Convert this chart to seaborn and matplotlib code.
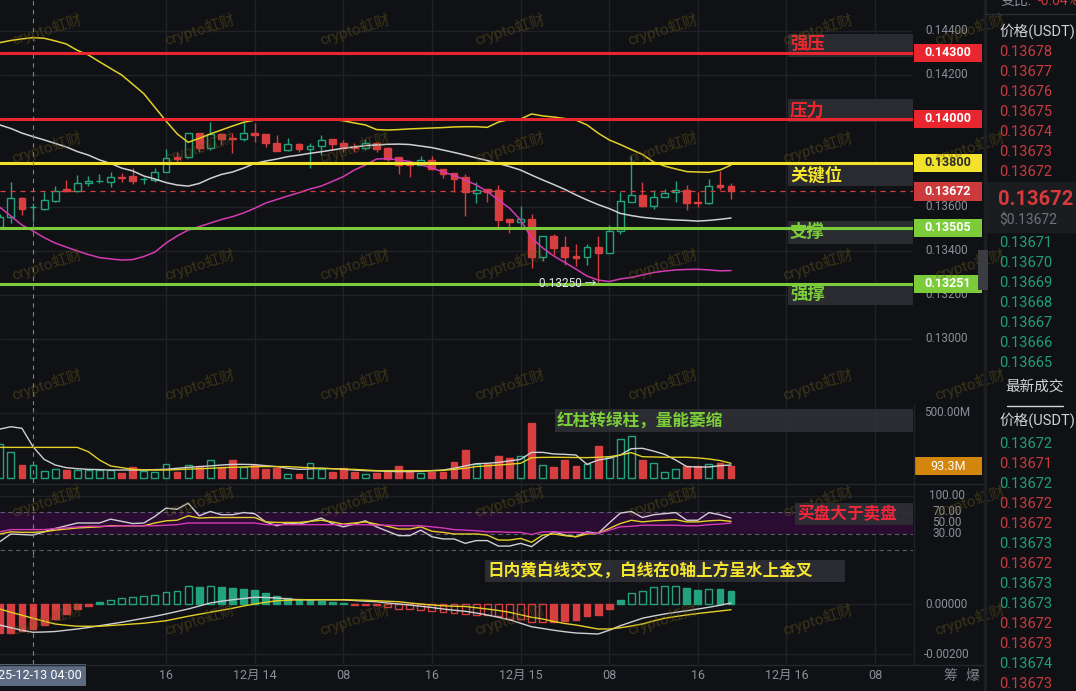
import matplotlib
matplotlib.use('Agg')
import matplotlib.pyplot as plt
import matplotlib.transforms as mtransforms
from matplotlib.patches import Rectangle
import numpy as np
import pandas as pd
import seaborn as sns

# ---------------- data (1h candles, hour index from 2025-12-13 00:00) ----------------
hours = list(range(1, 68))
open_ = [0.13509, 0.13553, 0.13640, 0.13598, 0.13591, 0.13629, 0.13680, 0.13674, 0.13708, 0.13716,
         0.13715, 0.13734, 0.13741, 0.13725, 0.13723, 0.13760, 0.13829, 0.13826, 0.13935, 0.13867,
         0.13930, 0.13915, 0.13908, 0.13935, 0.13930, 0.13890, 0.13859, 0.13885, 0.13864, 0.13879,
         0.13908, 0.13890, 0.13874, 0.13867, 0.13890, 0.13867, 0.13829, 0.13799, 0.13791, 0.13814,
         0.13773, 0.13753, 0.13738, 0.13665, 0.13680, 0.13677, 0.13545, 0.13533, 0.13545, 0.13371,
         0.13470, 0.13417, 0.13377, 0.13371, 0.13417, 0.13392, 0.13491, 0.13624, 0.13655, 0.13606,
         0.13647, 0.13667, 0.13677, 0.13624, 0.13617, 0.13700, 0.13695]
high = [0.13570, 0.13715, 0.13647, 0.13620, 0.13670, 0.13697, 0.13723, 0.13745, 0.13741, 0.13750,
        0.13758, 0.13756, 0.13779, 0.13738, 0.13776, 0.13864, 0.13851, 0.13938, 0.13938, 0.13985,
        0.13938, 0.13938, 0.13985, 0.13980, 0.13930, 0.13927, 0.13912, 0.13892, 0.13892, 0.13927,
        0.13908, 0.13905, 0.13892, 0.13908, 0.13897, 0.13874, 0.13829, 0.13801, 0.13833, 0.13833,
        0.13773, 0.13753, 0.13749, 0.13712, 0.13682, 0.13700, 0.13545, 0.13605, 0.13568, 0.13470,
        0.13476, 0.13470, 0.13430, 0.13430, 0.13470, 0.13518, 0.13670, 0.13832, 0.13712, 0.13677,
        0.13682, 0.13718, 0.13700, 0.13670, 0.13726, 0.13764, 0.13710]
low = [0.13500, 0.13529, 0.13564, 0.13533, 0.13586, 0.13621, 0.13670, 0.13670, 0.13695, 0.13708,
       0.13692, 0.13715, 0.13703, 0.13703, 0.13715, 0.13758, 0.13806, 0.13824, 0.13851, 0.13859,
       0.13882, 0.13844, 0.13900, 0.13897, 0.13874, 0.13856, 0.13856, 0.13851, 0.13776, 0.13836,
       0.13859, 0.13851, 0.13851, 0.13859, 0.13851, 0.13811, 0.13750, 0.13738, 0.13791, 0.13768,
       0.13733, 0.13670, 0.13559, 0.13617, 0.13624, 0.13499, 0.13483, 0.13508, 0.13321, 0.13356,
       0.13382, 0.13336, 0.13332, 0.13336, 0.13250, 0.13392, 0.13476, 0.13624, 0.13601, 0.13590,
       0.13645, 0.13624, 0.13586, 0.13601, 0.13614, 0.13677, 0.13636]
close = [0.13555, 0.13640, 0.13591, 0.13600, 0.13632, 0.13674, 0.13673, 0.13708, 0.13718, 0.13718,
         0.13738, 0.13732, 0.13718, 0.13727, 0.13760, 0.13824, 0.13820, 0.13935, 0.13867, 0.13930,
         0.13908, 0.13908, 0.13935, 0.13927, 0.13890, 0.13856, 0.13885, 0.13862, 0.13877, 0.13905,
         0.13886, 0.13870, 0.13867, 0.13890, 0.13864, 0.13818, 0.13791, 0.13792, 0.13814, 0.13771,
         0.13749, 0.13727, 0.13667, 0.13677, 0.13670, 0.13541, 0.13533, 0.13545, 0.13371, 0.13470,
         0.13412, 0.13374, 0.13370, 0.13417, 0.13392, 0.13492, 0.13627, 0.13655, 0.13606, 0.13647,
         0.13662, 0.13677, 0.13620, 0.13617, 0.13695, 0.13692, 0.13672]
boll_up = [0.14347, 0.14357, 0.14364, 0.14370, 0.14367, 0.14355, 0.14341, 0.14312, 0.14291, 0.14260,
           0.14230, 0.14200, 0.14158, 0.14115, 0.14053, 0.13991, 0.13933, 0.13894, 0.13912, 0.13932,
           0.13950, 0.13968, 0.13985, 0.13995, 0.13998, 0.14000, 0.14000, 0.14000, 0.14000, 0.14000,
           0.13998, 0.13992, 0.13982, 0.13973, 0.13952, 0.13950, 0.13952, 0.13955, 0.13957, 0.13959,
           0.13961, 0.13964, 0.13965, 0.13965, 0.13962, 0.13986, 0.13998, 0.14000, 0.14023, 0.14014,
           0.14009, 0.14002, 0.13995, 0.13973, 0.13936, 0.13905, 0.13884, 0.13861, 0.13839, 0.13805,
           0.13786, 0.13773, 0.13761, 0.13759, 0.13758, 0.13768, 0.13791]
boll_mid = [0.13973, 0.13957, 0.13936, 0.13920, 0.13905, 0.13889, 0.13873, 0.13852, 0.13836, 0.13814,
            0.13798, 0.13777, 0.13764, 0.13741, 0.13727, 0.13711, 0.13700, 0.13695, 0.13707, 0.13730,
            0.13748, 0.13759, 0.13777, 0.13798, 0.13809, 0.13818, 0.13829, 0.13836, 0.13844, 0.13851,
            0.13859, 0.13867, 0.13873, 0.13879, 0.13882, 0.13885, 0.13886, 0.13884, 0.13877, 0.13870,
            0.13859, 0.13848, 0.13836, 0.13823, 0.13811, 0.13797, 0.13784, 0.13768, 0.13745, 0.13723,
            0.13702, 0.13680, 0.13655, 0.13632, 0.13611, 0.13593, 0.13571, 0.13561, 0.13553, 0.13548,
            0.13544, 0.13541, 0.13539, 0.13536, 0.13539, 0.13544, 0.13550]
boll_dn = [0.13599, 0.13559, 0.13518, 0.13491, 0.13461, 0.13436, 0.13418, 0.13400, 0.13384, 0.13370,
           0.13364, 0.13359, 0.13361, 0.13375, 0.13395, 0.13436, 0.13468, 0.13495, 0.13511, 0.13527,
           0.13543, 0.13556, 0.13573, 0.13594, 0.13618, 0.13634, 0.13650, 0.13665, 0.13682, 0.13695,
           0.13716, 0.13738, 0.13768, 0.13791, 0.13818, 0.13820, 0.13814, 0.13807, 0.13793, 0.13777,
           0.13760, 0.13743, 0.13723, 0.13700, 0.13670, 0.13632, 0.13595, 0.13541, 0.13459, 0.13414,
           0.13377, 0.13348, 0.13318, 0.13286, 0.13268, 0.13261, 0.13273, 0.13280, 0.13291, 0.13302,
           0.13309, 0.13314, 0.13316, 0.13317, 0.13314, 0.13310, 0.13311]
volume_m = [259, 198, 101, 99, 53, 71, 63, 63, 61, 61, 61, 40, 86, 53, 46, 106, 48, 99, 94, 137,
            84, 137, 84, 101, 71, 76, 35, 30, 119, 68, 48, 76, 48, 35, 43, 51, 94, 51, 43, 51,
            51, 122, 215, 112, 106, 170, 155, 167, 418, 99, 86, 139, 94, 106, 246, 160, 296, 319, 139, 114,
            45, 68, 94, 94, 107, 118, 93.3]
vol_ma_fast = [374, 392, 380, 240, 144, 101, 81, 73, 68, 66, 63, 63, 63, 63, 66, 68, 76, 83, 89, 94,
               101, 106, 106, 104, 96, 89, 76, 68, 71, 76, 73, 68, 63, 58, 56, 53, 51, 51, 53, 58,
               63, 76, 94, 111, 114, 121, 132, 144, 197, 197, 185, 182, 177, 106, 139, 152, 177, 225, 228, 207,
               182, 139, 89, 86, 86, 96, 101]
vol_ma_slow = [235, 235, 235, 235, 235, 235, 235, 235, 202, 139, 94, 81, 68, 65, 63, 63, 66, 70, 72, 76,
               80, 84, 86, 89, 89, 89, 89, 84, 80, 76, 73, 70, 68, 63, 58, 58, 58, 58, 58, 58,
               60, 68, 76, 89, 95, 101, 107, 114, 157, 159, 160, 159, 158, 157, 160, 164, 177, 195, 164, 162,
               160, 160, 160, 155, 147, 135, 114]
rsi6 = [16, 30, 29, 28, 34, 40, 45, 50, 50, 50, 57, 53, 49, 50, 62, 77, 75, 86, 63, 71,
        65, 65, 69, 67, 52, 45, 50, 48, 53, 59, 49, 43, 48, 54, 43, 35, 27, 27, 37, 25,
        21, 21, 13, 18, 18, 8, 8, 13, 7, 22, 34, 28, 25, 34, 31, 50, 68, 71, 60, 65,
        67, 69, 55, 55, 69, 65, 59]
rsi12 = [30, 34, 33, 33, 34, 37, 39, 41, 42, 43, 45, 45, 45, 45, 50, 54, 55, 63, 59, 60,
         60, 60, 60, 60, 52, 51, 51, 51, 53, 55, 52, 48, 50, 52, 48, 44, 39, 39, 43, 35,
         33, 30, 30, 30, 28, 19, 19, 22, 15, 28, 30, 27, 25, 30, 31, 40, 49, 55, 52, 54,
         55, 56, 52, 52, 54, 55, 53]
rsi24 = [34, 38, 38, 38, 38, 40, 41, 43, 44, 44, 44, 45, 45, 45, 45, 46, 47, 50, 50, 50,
         50, 50, 50, 50, 47, 47, 47, 47, 47, 47, 47, 47, 47, 47, 46, 46, 45, 45, 45, 43,
         41, 38, 37, 36, 34, 34, 33, 33, 29, 34, 34, 33, 33, 32, 31, 37, 43, 44, 46, 46,
         46, 46, 45, 45, 47, 48, 50]
macd_hist = [-0.00115, -0.00115, -0.00108, -0.00101, -0.00085, -0.00061, -0.00041, -0.00021, -0.00009, 0.00008,
             0.00015, 0.00024, 0.00028, 0.00032, 0.00035, 0.00048, 0.00052, 0.00071, 0.00070, 0.00072,
             0.00068, 0.00064, 0.00061, 0.00057, 0.00044, 0.00032, 0.00024, 0.00019, 0.00015, 0.00011,
             0.00008, 0.00005, -0.00005, -0.00005, -0.00005, -0.00013, -0.00019, -0.00021, -0.00023, -0.00029,
             -0.00032, -0.00036, -0.00041, -0.00043, -0.00045, -0.00048, -0.00059, -0.00061, -0.00072, -0.00073,
             -0.00073, -0.00069, -0.00063, -0.00049, -0.00043, -0.00020, 0.00016, 0.00043, 0.00051, 0.00067,
             0.00071, 0.00072, 0.00063, 0.00057, 0.00060, 0.00060, 0.00051]
dif = [-0.00084, -0.00095, -0.00105, -0.00113, -0.00112, -0.00110, -0.00105, -0.00100, -0.00094, -0.00087,
       -0.00080, -0.00073, -0.00065, -0.00057, -0.00049, -0.00040, -0.00030, -0.00020, -0.00008, 0.00004,
       0.00011, 0.00017, 0.00022, 0.00027, 0.00026, 0.00024, 0.00020, 0.00017, 0.00017, 0.00017,
       0.00017, 0.00017, 0.00014, 0.00011, 0.00009, 0.00004, 0.00000, -0.00004, -0.00009, -0.00014,
       -0.00020, -0.00025, -0.00029, -0.00036, -0.00044, -0.00053, -0.00063, -0.00077, -0.00091, -0.00098,
       -0.00105, -0.00111, -0.00116, -0.00118, -0.00120, -0.00105, -0.00087, -0.00072, -0.00057, -0.00048,
       -0.00040, -0.00033, -0.00027, -0.00020, -0.00013, -0.00005, 0.00004]
dea = [-0.00020, -0.00033, -0.00045, -0.00057, -0.00069, -0.00080, -0.00085, -0.00089, -0.00089, -0.00089,
       -0.00086, -0.00083, -0.00080, -0.00077, -0.00072, -0.00067, -0.00058, -0.00049, -0.00041, -0.00033,
       -0.00025, -0.00017, -0.00008, 0.00000, 0.00007, 0.00013, 0.00015, 0.00017, 0.00017, 0.00017,
       0.00017, 0.00017, 0.00016, 0.00015, 0.00013, 0.00011, 0.00009, 0.00004, 0.00000, -0.00004,
       -0.00007, -0.00009, -0.00010, -0.00015, -0.00020, -0.00026, -0.00033, -0.00043, -0.00053, -0.00060,
       -0.00070, -0.00078, -0.00084, -0.00092, -0.00100, -0.00100, -0.00095, -0.00088, -0.00080, -0.00068,
       -0.00057, -0.00050, -0.00044, -0.00038, -0.00033, -0.00028, -0.00023]

levels = [0.14300, 0.14000, 0.13800, 0.13505, 0.13251]
level_names = ['强压', '压力', '关键位', '支撑', '强撑']
level_kinds = ['red', 'red', 'yellow', 'green', 'green']
last_price = 0.13672
low_mark = 0.13250
low_mark_hour = 55
last_volume = 93.3

price_ticks = [0.130, 0.132, 0.134, 0.136, 0.138, 0.140, 0.142, 0.144]
price_tick_hidden = [0.138, 0.140]   # covered by level tags in the reference
vol_ticks = [500]
rsi_ticks = [100, 70, 50, 30]
macd_ticks = [0.0, -0.002]
time_ticks = [16, 24, 32, 40, 48, 56, 64, 72, 80]
time_labels = ['16', '12月 14', '08', '16', '12月 15', '08', '16', '12月 16', '08']
crosshair_hour = 4
crosshair_label = '2025-12-13 04:00'

ask_prices = ['0.13678', '0.13677', '0.13676', '0.13675', '0.13674', '0.13673', '0.13672']
bid_prices = ['0.13671', '0.13670', '0.13669', '0.13668', '0.13667', '0.13666', '0.13665']
trade_prices = ['0.13672', '0.13671', '0.13672', '0.13672', '0.13672', '0.13673', '0.13672',
                '0.13673', '0.13673', '0.13672', '0.13673', '0.13674', '0.13673']
trade_buy = [True, False, True, False, False, True, False, True, True, False, False, True, False]

msg_volume = '红柱转绿柱，量能萎缩'
msg_rsi = '买盘大于卖盘'
msg_macd = '日内黄白线交叉，白线在0轴上方呈水上金叉'

# ---------------- style ----------------
sns.set_theme(style='dark')
plt.rcParams['font.family'] = ['Roboto', 'Noto Sans CJK SC', 'DejaVu Sans']
plt.rcParams['axes.unicode_minus'] = False

BG = '#101114'
GRID = '#1f2227'
GREEN = '#22a37e'
RED = '#d63e3f'
AXTXT = '#8a8f98'
YEL = '#e3d026'
WHITE_LINE = '#cfd0d3'
MAG = '#d43bb3'
TAG = {'red': '#e8262f', 'yellow': '#f3e22c', 'green': '#7ccb3a'}
TXT = {'red': '#f0262f', 'yellow': '#f6e52e', 'green': '#7dcf3a'}
W, H = 1076, 691
X_LEFT, X_RIGHT = 1.02, 83.42

df = pd.DataFrame(dict(hour=hours, open=open_, high=high, low=low, close=close,
                       up_band=boll_up, mid_band=boll_mid, low_band=boll_dn,
                       vol=volume_m, vma_fast=vol_ma_fast, vma_slow=vol_ma_slow,
                       rsi6=rsi6, rsi12=rsi12, rsi24=rsi24, hist=macd_hist, dif=dif, dea=dea))
df['up'] = df['close'] >= df['open']
cols = np.where(df['up'], GREEN, RED)

fig = plt.figure(figsize=(W / 100, H / 100), dpi=100, facecolor=BG)


def px_axes(x0, y0, x1, y1):
    ax = fig.add_axes([x0 / W, 1 - y1 / H, (x1 - x0) / W, (y1 - y0) / H])
    ax.set_facecolor(BG)
    for s in ax.spines.values():
        s.set_visible(False)
    ax.set_xticks([])
    ax.set_yticks([])
    ax.set_xlim(X_LEFT, X_RIGHT)
    return ax


ax_main = px_axes(0, 0, 913, 405)
ax_vol = px_axes(0, 405, 913, 483)
ax_rsi = px_axes(0, 485, 913, 555)
ax_macd = px_axes(0, 555, 913, 664)
ax_main.set_ylim(0.1270, 0.145409)
ax_vol.set_ylim(-35.7, 557.1)
ax_rsi.set_ylim(-8.2, 119.1)
ax_macd.set_ylim(-0.0024, 0.00196)
axes = [ax_main, ax_vol, ax_rsi, ax_macd]
XLAB = 947 / 913


def blend(ax):
    return mtransforms.blended_transform_factory(ax.transAxes, ax.transData)


def right_label(ax, v, s):
    ax.text(XLAB, v, s, transform=blend(ax), ha='center', va='center', color=AXTXT,
            fontsize=8.5, zorder=1, clip_on=False)


# grid + crosshair
for ax in axes:
    for t in time_ticks:
        ax.axvline(t, color=GRID, lw=1, zorder=0)
    ax.axvline(crosshair_hour, color='#7d828c', lw=0.8, ls=(0, (4, 4)), zorder=8)
for t in price_ticks:
    ax_main.axhline(t, color=GRID, lw=1, zorder=0)
    if t not in price_tick_hidden:
        right_label(ax_main, t, f'{t:.5f}')

# ---------- main: candles ----------
BODY_W = 0.62
ax_main.vlines(df['hour'], df['low'], df['high'], colors=cols, lw=1, zorder=3)
for h, o, c, u, col in zip(df['hour'], df['open'], df['close'], df['up'], cols):
    lo = min(o, c)
    ht = max(abs(c - o), 0.00004)
    ax_main.add_patch(Rectangle((h - BODY_W / 2, lo), BODY_W, ht, fc=BG if u else col, ec=col,
                                lw=1, zorder=3.5))

sns.lineplot(data=df, x='hour', y='up_band', ax=ax_main, color=YEL, lw=1.1, zorder=4, legend=False)
sns.lineplot(data=df, x='hour', y='mid_band', ax=ax_main, color=WHITE_LINE, lw=1.1, zorder=4, legend=False)
sns.lineplot(data=df, x='hour', y='low_band', ax=ax_main, color=MAG, lw=1.1, zorder=4, legend=False)

PX = 0.001 / 22  # price per pixel in main panel
TAG_X0, TAG_X1 = 914 / 913, 982 / 913
name_box = [(-19, 4), (-20, 3), (2, 23), (-7, 16), (-1, 21)]
name_txt = [-9, -9, 12, 4, 9]
bm = blend(ax_main)
for lv, nm, kind, (t0, t1), toff in zip(levels, level_names, level_kinds, name_box, name_txt):
    ax_main.axhline(lv, color=TAG[kind], lw=2.2, zorder=5)
    ax_main.add_patch(Rectangle((TAG_X0, lv - 9 * PX), TAG_X1 - TAG_X0, 18 * PX, transform=bm,
                                fc=TAG[kind], ec='none', clip_on=False, zorder=20))
    ax_main.text((TAG_X0 + TAG_X1) / 2, lv, f'{lv:.5f}', transform=bm, ha='center', va='center',
                 color='#2a2a2a' if kind == 'yellow' else 'white', fontsize=9, fontweight='bold',
                 zorder=21, clip_on=False)
    ax_main.add_patch(Rectangle((788 / 913, lv - t1 * PX), 1 - 788 / 913, (t1 - t0) * PX, transform=bm,
                                fc='#2c2e34', ec='none', alpha=0.9, zorder=4.8))
    ax_main.text(790 / 913, lv - toff * PX, nm, transform=bm, ha='left', va='center',
                 color=TXT[kind], fontsize=12.5, fontweight='bold', zorder=7)

ax_main.axhline(last_price, color=RED, lw=0.9, ls=(0, (4, 4)), zorder=4.5)
ax_main.add_patch(Rectangle((TAG_X0, last_price - 9.5 * PX), TAG_X1 - TAG_X0, 19 * PX, transform=bm,
                            fc='#cc3a3b', ec='none', clip_on=False, zorder=20))
ax_main.text((TAG_X0 + TAG_X1) / 2, last_price, f'{last_price:.5f}', transform=bm, ha='center',
             va='center', color='white', fontsize=9, fontweight='bold', zorder=21, clip_on=False)
ax_main.annotate(f'{low_mark:.5f} →', xy=(low_mark_hour, low_mark), xytext=(-1, 0),
                 textcoords='offset points', ha='right', va='center', color='#e6e8eb',
                 fontsize=8.5, zorder=9)

# ---------- volume ----------
ax_vol.bar(df['hour'], df['vol'], width=BODY_W, color=np.where(df['up'], BG, RED), edgecolor=cols,
           linewidth=1, zorder=3)
sns.lineplot(data=df, x='hour', y='vma_fast', ax=ax_vol, color=WHITE_LINE, lw=1, zorder=4, legend=False)
sns.lineplot(data=df, x='hour', y='vma_slow', ax=ax_vol, color=YEL, lw=1, zorder=4, legend=False)
for t in vol_ticks:
    ax_vol.axhline(t, color=GRID, lw=1, zorder=0)
    right_label(ax_vol, t, f'{t:.2f}M')
bv = blend(ax_vol)
VPX = 7.6
ax_vol.add_patch(Rectangle((TAG_X0, last_volume - 9 * VPX), TAG_X1 - TAG_X0, 18 * VPX, transform=bv,
                           fc='#d4860c', ec='none', clip_on=False, zorder=20))
ax_vol.text((TAG_X0 + TAG_X1) / 2, last_volume, f'{last_volume}M', transform=bv, ha='center',
            va='center', color='white', fontsize=9, zorder=21, clip_on=False)

# ---------- RSI ----------
ax_rsi.axhspan(30, 70, color='#2a0c33', zorder=1, lw=0)
for v in (70, 30, 0):
    ax_rsi.axhline(v, color='#5a5e66', lw=0.8, ls=(0, (4, 3)), zorder=2)
ax_rsi.axhline(100, color=GRID, lw=1, zorder=0)
sns.lineplot(data=df, x='hour', y='rsi6', ax=ax_rsi, color=WHITE_LINE, lw=1, zorder=4, legend=False)
sns.lineplot(data=df, x='hour', y='rsi12', ax=ax_rsi, color=YEL, lw=1, zorder=4, legend=False)
sns.lineplot(data=df, x='hour', y='rsi24', ax=ax_rsi, color=MAG, lw=1, zorder=4, legend=False)
for t in rsi_ticks:
    right_label(ax_rsi, t, f'{t:.2f}')

# ---------- MACD ----------
for t in macd_ticks:
    ax_macd.axhline(t, color=GRID, lw=1, zorder=0)
    right_label(ax_macd, t, f'{t:.5f}')
hist = df['hist'].to_numpy()
prev = np.concatenate([[hist[0]], hist[:-1]])
hollow = np.abs(hist) > np.abs(prev)
hcol = np.where(hist >= 0, GREEN, RED)
ax_macd.bar(df['hour'], hist, width=BODY_W, color=np.where(hollow, BG, hcol), edgecolor=hcol,
            linewidth=1, zorder=3)
sns.lineplot(data=df, x='hour', y='dif', ax=ax_macd, color=WHITE_LINE, lw=1, zorder=4, legend=False)
sns.lineplot(data=df, x='hour', y='dea', ax=ax_macd, color=YEL, lw=1, zorder=4, legend=False)
for ax in axes:
    ax.set_xlabel('')
    ax.set_ylabel('')
    ax.set_xlim(X_LEFT, X_RIGHT)

# time axis
bt = mtransforms.blended_transform_factory(ax_macd.transData, ax_macd.transAxes)
for t, s in zip(time_ticks, time_labels):
    ax_macd.text(t, -0.101, s, transform=bt, ha='center', va='center', color=AXTXT, fontsize=9,
                 clip_on=False)
ax_macd.text(crosshair_hour, -0.101, crosshair_label, transform=bt, ha='center', va='center',
             color='white', fontsize=9, clip_on=False, zorder=30,
             bbox=dict(boxstyle='square,pad=0.35', fc='#5d6c83', ec='none'))

# ---------------- overlay (pixel coordinates) ----------------
ov = fig.add_axes([0, 0, 1, 1], zorder=30)
ov.set_xlim(0, W)
ov.set_ylim(H, 0)
ov.axis('off')

# separators
ov.plot([0, 983], [483.5, 483.5], color='#24272c', lw=1)
ov.plot([0, 983], [664.5, 664.5], color='#24272c', lw=1)
ov.plot([913.5, 913.5], [405, 664], color='#1f2227', lw=1)
ov.plot([984.5, 984.5], [0, H], color='#1c1e22', lw=2.5)

# message boxes
for (x0, y0, w, h), msg, col in [((555, 409, 358, 23), msg_volume, TXT['green']),
                                 ((795, 503, 118, 22), msg_rsi, '#f2263a'),
                                 ((485, 560, 360, 22), msg_macd, TXT['yellow'])]:
    ov.add_patch(Rectangle((x0, y0), w, h, fc='#2e3036', ec='none', alpha=0.9, zorder=2))
    ov.text(x0 + 2, y0 + h / 2, msg, ha='left', va='center', color=col, fontsize=12,
            fontweight='bold', zorder=3)

# bottom-right
ov.text(950, 676, '筹', color='#7a7f88', fontsize=10, ha='center', va='center')
ov.text(972, 676, '爆', color='#7a7f88', fontsize=10, ha='center', va='center')

# watermarks
for wy in [30, 148, 265, 385, 502, 620]:
    for wx in [47, 200, 355, 510, 663, 818, 970]:
        ov.text(wx, wy, 'crypto虹财', rotation=17, ha='center', va='center', color='#6e5c1c',
                alpha=0.45, fontsize=11, zorder=1)

# ---------------- right order-book panel ----------------
SB_RED = '#c83b3f'
SB_GREEN = '#1f9f78'
SB_HEAD = '#d0d3d8'
ov.text(1000, 1, '变比:', color='#8a8f98', fontsize=10, ha='left', va='center')
ov.text(1038, 1, '-0.04%', color=SB_RED, fontsize=10, ha='left', va='center')
ov.plot([985, 1076], [13.5, 13.5], color='#2a2d33', lw=1)
ov.text(999, 31, '价格(USDT)', color=SB_HEAD, fontsize=10.5, ha='left', va='center')
for i, p in enumerate(ask_prices):
    ov.text(999, 52 + 20 * i, p, color=SB_RED, fontsize=10.5, ha='left', va='center')
ov.add_patch(Rectangle((987, 182), 89, 51, fc='#1b1c20', ec='none', zorder=0))
ov.text(998, 199, f'{last_price:.5f}', color='#d8393c', fontsize=14.5, fontweight='bold',
        ha='left', va='center')
ov.text(999, 220, f'${last_price:.5f}', color='#6e727a', fontsize=10, ha='left', va='center')
for i, p in enumerate(bid_prices):
    ov.text(999, 243 + 20 * i, p, color=SB_GREEN, fontsize=10.5, ha='left', va='center')
ov.add_patch(Rectangle((978, 250), 10, 40, fc='#3a3c42', ec='none', zorder=2))
ov.text(1035, 387, '最新成交', color=SB_HEAD, fontsize=10.5, ha='center', va='center')
ov.plot([1007, 1063], [406, 406], color='#d0d3d8', lw=1)
ov.text(999, 420, '价格(USDT)', color=SB_HEAD, fontsize=10.5, ha='left', va='center')
for i, (p, b) in enumerate(zip(trade_prices, trade_buy)):
    ov.text(999, 444 + 20 * i, p, color=SB_GREEN if b else SB_RED, fontsize=10.5, ha='left',
            va='center')

fig.savefig('out.png', dpi=100, facecolor=BG)
